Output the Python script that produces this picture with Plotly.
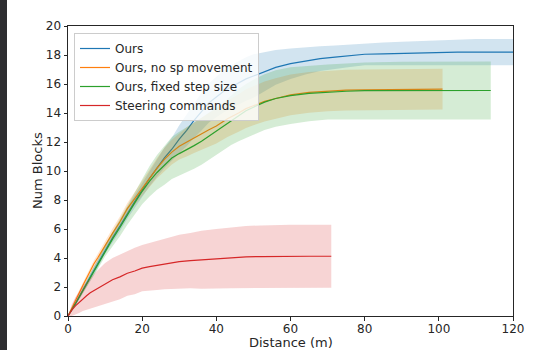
import plotly.graph_objects as go

# ---------------- data ----------------
ours_x = [0, 1, 2, 3, 4, 5, 6, 7, 8, 10, 12, 14, 16, 18, 20, 22, 24, 26, 28, 30, 32, 34, 36, 38, 40,
          42, 44, 46, 48, 50, 53, 56, 60, 64, 68, 72, 76, 80, 85, 90, 95, 100, 105, 110, 115, 120]
ours_mean = [0, 0.4, 0.85, 1.3, 1.8, 2.2, 2.7, 3.15, 3.6, 4.6, 5.4, 6.2, 7.1, 7.9, 8.7, 9.5, 10.2, 10.9,
             11.5, 12.2, 12.8, 13.5, 14.1, 14.7, 15.1, 15.5, 15.8, 16.1, 16.35, 16.55, 16.85, 17.15,
             17.4, 17.6, 17.75, 17.85, 17.95, 18.05, 18.08, 18.12, 18.15, 18.18, 18.2, 18.2, 18.2, 18.2]
ours_std = [0, 0.1, 0.15, 0.2, 0.22, 0.25, 0.27, 0.3, 0.3, 0.3, 0.32, 0.35, 0.4, 0.45, 0.5, 0.55, 0.6,
            0.7, 0.8, 0.95, 1.1, 1.2, 1.3, 1.35, 1.4, 1.45, 1.5, 1.5, 1.5, 1.5, 1.35, 1.2, 1.05, 0.95,
            0.85, 0.8, 0.78, 0.75, 0.78, 0.8, 0.82, 0.85, 0.88, 0.9, 0.9, 0.9]

nosp_x = [0, 1, 2, 3, 4, 5, 6, 7, 8, 10, 12, 14, 16, 18, 20, 22, 24, 26, 28, 30, 32, 34, 36, 38, 40,
          43, 46, 48, 50, 53, 56, 60, 65, 70, 75, 80, 90, 101]
nosp_mean = [0, 0.55, 1.1, 1.6, 2.1, 2.6, 3.15, 3.6, 4.0, 4.9, 5.7, 6.5, 7.4, 8.1, 8.8, 9.5, 10.2, 10.8,
             11.3, 11.7, 12.0, 12.3, 12.6, 12.85, 13.1, 13.6, 14.0, 14.3, 14.5, 14.8, 15.0, 15.25, 15.42,
             15.52, 15.58, 15.6, 15.62, 15.65]
nosp_std = [0, 0.1, 0.15, 0.18, 0.2, 0.2, 0.22, 0.25, 0.27, 0.3, 0.33, 0.36, 0.4, 0.45, 0.5, 0.6, 0.7,
            0.8, 0.85, 0.9, 1.0, 1.05, 1.1, 1.15, 1.2, 1.25, 1.3, 1.33, 1.35, 1.38, 1.4, 1.4, 1.4, 1.4,
            1.4, 1.4, 1.4, 1.4]

fixed_x = [0, 1, 2, 3, 4, 5, 6, 7, 8, 10, 12, 14, 16, 18, 20, 22, 24, 26, 28, 30, 32, 34, 36, 38, 40,
           42, 44, 46, 48, 50, 53, 56, 60, 65, 70, 75, 80, 90, 100, 114]
fixed_mean = [0, 0.4, 0.85, 1.3, 1.75, 2.2, 2.65, 3.1, 3.55, 4.5, 5.3, 6.1, 7.0, 7.8, 8.6, 9.3, 9.9,
              10.4, 10.9, 11.2, 11.45, 11.75, 12.05, 12.4, 12.75, 13.1, 13.5, 13.85, 14.15, 14.4, 14.75,
              15.0, 15.2, 15.35, 15.45, 15.5, 15.54, 15.55, 15.55, 15.55]
fixed_std = [0, 0.1, 0.15, 0.2, 0.22, 0.25, 0.28, 0.3, 0.33, 0.4, 0.5, 0.6, 0.7, 0.8, 0.9, 1.05, 1.2,
             1.35, 1.45, 1.5, 1.55, 1.6, 1.62, 1.65, 1.65, 1.65, 1.7, 1.8, 1.85, 1.9, 1.93, 1.95, 1.95,
             1.92, 1.9, 1.92, 1.95, 1.98, 2.0, 2.0]

steer_x = [0, 1, 2, 3, 4, 5, 6, 7, 8, 10, 12, 14, 16, 18, 20, 22, 24, 26, 28, 30, 33, 36, 40, 44, 48,
           52, 56, 60, 65, 71]
steer_mean = [0, 0.4, 0.7, 0.95, 1.2, 1.4, 1.6, 1.75, 1.9, 2.25, 2.5, 2.7, 2.95, 3.1, 3.3, 3.4, 3.5,
              3.6, 3.7, 3.75, 3.82, 3.88, 3.95, 4.02, 4.08, 4.1, 4.12, 4.12, 4.12, 4.12]
steer_std = [0, 0.4, 0.6, 0.75, 0.85, 0.95, 1.05, 1.15, 1.25, 1.4, 1.5, 1.55, 1.55, 1.6, 1.6, 1.65,
             1.7, 1.75, 1.8, 1.85, 1.9, 2.0, 2.05, 2.1, 2.12, 2.15, 2.17, 2.18, 2.18, 2.18]

x_ticks = [0, 20, 40, 60, 80, 100, 120]
y_ticks = [0, 2, 4, 6, 8, 10, 12, 14, 16, 18, 20]
x_title = "Distance (m)"
y_title = "Num Blocks"

series = [
    ("Ours", ours_x, ours_mean, ours_std, "#1f77b4", "rgba(31,119,180,0.2)"),
    ("Ours, no sp movement", nosp_x, nosp_mean, nosp_std, "#ff7f0e", "rgba(255,127,14,0.2)"),
    ("Ours, fixed step size", fixed_x, fixed_mean, fixed_std, "#2ca02c", "rgba(44,160,44,0.2)"),
    ("Steering commands", steer_x, steer_mean, steer_std, "#d62728", "rgba(214,39,40,0.2)"),
]

fig = go.Figure()
for name, xs, m, s, col, fcol in series:
    fig.add_trace(go.Scatter(x=xs, y=m, mode="lines", name=name,
                             line=dict(color=col, width=1.2)))
    up = [a + b for a, b in zip(m, s)]
    lo = [max(a - b, 0) for a, b in zip(m, s)]
    fig.add_trace(go.Scatter(x=list(xs) + list(xs)[::-1], y=up + lo[::-1],
                             fill="toself", fillcolor=fcol, mode="lines",
                             line=dict(width=0, color=fcol), showlegend=False,
                             hoverinfo="skip"))

W, H = 538, 350
ml, mr, mt, mb = 68, 25, 26, 34
pw = W - ml - mr
ph = H - mt - mb

fig.update_layout(
    width=W, height=H,
    margin=dict(l=ml, r=mr, t=mt, b=mb, pad=0),
    paper_bgcolor="white", plot_bgcolor="white",
    font=dict(family="DejaVu Sans", size=12, color="#262626"),
    showlegend=True,
    legend=dict(x=6 / pw, y=1 - 7 / ph, xanchor="left", yanchor="top",
                bgcolor="rgba(255,255,255,0.8)", bordercolor="#cccccc", borderwidth=1,
                font=dict(size=12, color="#262626"), tracegroupgap=0),
    xaxis=dict(range=[0, 120], tickvals=x_ticks, ticks="outside", ticklen=3.5, tickwidth=1,
               tickcolor="#262626", showline=True, linecolor="#262626", linewidth=1,
               mirror=True, showgrid=False, zeroline=False, automargin=False,
               ticklabelstandoff=-2),
    yaxis=dict(range=[0, 20], tickvals=y_ticks, ticks="outside", ticklen=3.5, tickwidth=1,
               tickcolor="#262626", showline=True, linecolor="#262626", linewidth=1,
               mirror=True, showgrid=False, zeroline=False, automargin=False),
    annotations=[
        dict(text=x_title, xref="paper", yref="paper", x=0.5, y=-26.5 / ph,
             xanchor="center", yanchor="middle", showarrow=False, font=dict(size=13),
             borderpad=0),
        dict(text=y_title, xref="paper", yref="paper", x=-31 / pw, y=0.5, textangle=-90,
             xanchor="center", yanchor="middle", showarrow=False, font=dict(size=13),
             borderpad=0),
    ],
    shapes=[dict(type="rect", xref="paper", yref="paper",
                 x0=-ml / pw, x1=-(ml - 7) / pw, y0=-mb / ph - 0.01, y1=1 + mt / ph + 0.01,
                 fillcolor="#2e2e30", line=dict(width=0), layer="above")],
)

fig.write_html("out.html")
